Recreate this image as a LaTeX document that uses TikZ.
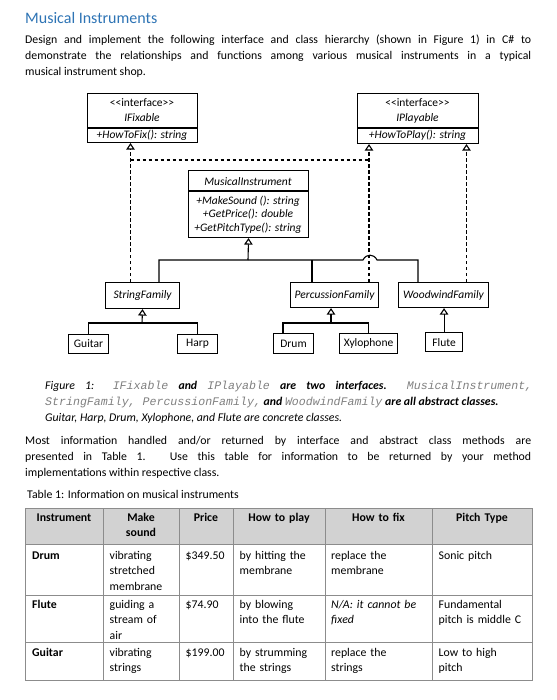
\documentclass[tikz,border=0pt]{standalone}
\usepackage{fontspec}
\setmainfont{Carlito}
\newfontfamily\monof{Liberation Mono}
\usetikzlibrary{arrows.meta}
\definecolor{titleblue}{HTML}{2E74B5}
\definecolor{codegray}{HTML}{808080}
\definecolor{hdrgray}{HTML}{D2D2D2}
\definecolor{rulegray}{HTML}{8C8C8C}
\newcommand{\cw}[1]{{\monof\fontsize{11.6}{16}\selectfont\color{codegray}#1}}
\begin{document}
\begin{tikzpicture}[x=1pt,y=-1pt,
  box/.style={draw, line width=1.1pt, inner sep=0pt, anchor=north west, font=\fontsize{11.5}{14}\selectfont},
  ibox/.style={box, font=\fontsize{11.5}{14}\selectfont\itshape},
  lbl/.style={inner sep=0pt, font=\fontsize{11.5}{14}\selectfont},
  ilbl/.style={inner sep=0pt, font=\fontsize{11.5}{14}\selectfont\itshape},
  conn/.style={line width=1.1pt},
  dashes/.style={conn, dash pattern=on 3.5pt off 2.5pt},
  real/.style={dashes, -{Triangle[open, width=8.5pt, length=6.5pt, line width=1.1pt]}},
  gen/.style={conn, -{Triangle[open, width=8.5pt, length=6.5pt, line width=1.1pt]}},
  para/.style={inner sep=0pt, anchor=base west, align=justify, font=\fontsize{11.8}{16}\selectfont},
  cell/.style={inner sep=0pt, anchor=base west, align=left, text width=#1, font=\fontsize{11.8}{15.5}\selectfont},
  hcell/.style={inner sep=0pt, anchor=base, align=center, text width=#1, font=\fontsize{11.8}{15.5}\selectfont\bfseries},
]
\useasboundingbox (0,0) rectangle (556,700);
\fill[white] (0,0) rectangle (556,700);

% ---------- heading and intro ----------
\node[inner sep=0pt, anchor=base west, text=titleblue, font=\fontsize{16}{18}\selectfont] (title) at (25,23.5) {Musical Instruments};
\node[para, text width=506pt] (intro) at (25,44) {Design and implement the following interface and class hierarchy (shown in Figure 1) in C\# to\linebreak demonstrate the relationships and functions among various musical instruments in a typical\linebreak musical instrument shop.};

% ---------- UML diagram ----------
\node[box, minimum width=110pt, minimum height=49pt] (ifix) at (87,93) {};
\draw[line width=1.1pt] (87,128) -- (197,128);
\node[lbl] (ifixst) at (142,103) {<\kern0pt<interface>\kern0pt>};
\node[ilbl] (ifixnm) at (142,118) {IFixable};
\node[ilbl] (ifixop) at (142,135.5) {+HowToFix(): string};

\node[box, minimum width=121pt, minimum height=50pt] (ipl) at (357,93) {};
\draw[line width=1.1pt] (357,128) -- (478,128);
\node[lbl] (iplst) at (417.5,103) {<\kern0pt<interface>\kern0pt>};
\node[ilbl] (iplnm) at (417.5,118) {IPlayable};
\node[ilbl] (iplop) at (417.5,135.5) {+HowToPlay(): string};

\node[box, minimum width=120pt, minimum height=67pt] (mi) at (188,170) {};
\draw[line width=1.1pt] (188,191) -- (308,191);
\node[ilbl] (minm) at (248,181.5) {MusicalInstrument};
\node[ilbl] (miop1) at (248,201) {+MakeSound (): string};
\node[ilbl] (miop2) at (248,214.5) {+GetPrice(): double};
\node[ilbl] (miop3) at (248,228.5) {+GetPitchType(): string};

\node[ibox, minimum width=74pt, minimum height=26pt] (sf) at (105,282) {StringFamily};
\node[ibox, minimum width=88pt, minimum height=25pt] (pf) at (290,282) {PercussionFamily};
\node[ibox, minimum width=90pt, minimum height=25pt] (wf) at (398,282) {WoodwindFamily};

\node[box, minimum width=40pt, minimum height=19pt] (gu) at (68,334) {Guitar};
\node[box, minimum width=40pt, minimum height=19pt] (ha) at (177,334) {Harp};
\node[box, minimum width=40pt, minimum height=20pt] (dr) at (273,333) {Drum};
\node[box, minimum width=58pt, minimum height=20pt] (xy) at (339,333) {Xylophone};
\node[box, minimum width=37pt, minimum height=19pt] (fl) at (425,332) {Flute};

% realization (dashed) connectors
\draw[real] ([xshift=25.5pt]sf.north west) -- ([xshift=43.5pt]ifix.south west);
\draw[real] ([xshift=79pt]pf.north west) -- ([xshift=12pt]ipl.south west);
\draw[real] ([xshift=68.5pt]wf.north west) -- ([xshift=109.5pt]ipl.south west);
\coordinate (dl) at (130.5,160);
\coordinate (dr2) at (369,160);
\draw[dashes] (dl) -- (dr2);

% generalization connectors
\coordinate (mj) at (248,260);
\coordinate (bl) at (159,260);
\coordinate (hopa) at (363,260);
\coordinate (hopb) at (377,260);
\coordinate (br) at (418,260);
\coordinate (pj) at (312,260);
\draw[gen] (mj) -- (mi.south);
\draw[conn] ([xshift=54pt]sf.north west) -- (bl) -- (hopa) .. controls (366,253.5) and (374,253.5) .. (hopb) -- (br) -- ([xshift=20pt]wf.north west);
\draw[conn] ([xshift=22pt]pf.north west) -- (pj);

\coordinate (sj) at (142,323);
\draw[gen] (sj) -- (sf.south);
\draw[conn] (gu.north) |- (sj) -| (ha.north);

\coordinate (pjj) at (331,323);
\draw[gen] (pjj) -- ([xshift=41pt]pf.south west);
\draw[conn] ([xshift=10pt]dr.north west) |- (pjj) -| (xy.north);

\draw[gen] (fl.north) -- (fl.north |- wf.south);

% ---------- caption and text ----------
\node[para, text width=487pt, font=\fontsize{11.8}{16}\selectfont\itshape] (cap) at (45,389) {Figure 1: \cw{IFixable} \textbf{and} \cw{IPlayable} \textbf{are two interfaces.}\ \ \cw{MusicalInstrument,}\linebreak \cw{StringFamily, PercussionFamily,} \textbf{and} \cw{WoodwindFamily} \textbf{are all abstract classes.}\\ Guitar, Harp, Drum, Xylophone, and Flute are concrete classes.};

\node[para, text width=506pt] (info) at (25,444) {Most information handled and/or returned by interface and abstract class methods are\linebreak presented in Table 1. Use this table for information to be returned by your method\linebreak implementations within respective class.};

\node[inner sep=0pt, anchor=base west, font=\fontsize{11.8}{16}\selectfont] (tcap) at (27,498) {Table 1: Information on musical instruments};

% ---------- table ----------
\fill[hdrgray] (25,508) rectangle (532,544);
\draw[rulegray, line width=0.9pt] (25,508) rectangle (532,680);
\foreach \yy in {544,595,642} \draw[rulegray, line width=0.9pt] (25,\yy) -- (532,\yy);
\foreach \xx in {103,179,233,325,432} \draw[rulegray, line width=0.9pt] (\xx,508) -- (\xx,680);

\node[hcell=74pt] (h1) at (64,521) {Instrument};
\node[hcell=72pt] (h2) at (141,521) {Make\\sound};
\node[hcell=50pt] (h3) at (206,521) {Price};
\node[hcell=88pt] (h4) at (279,521) {How to play};
\node[hcell=100pt] (h5) at (378.5,521) {How to fix};
\node[hcell=96pt] (h6) at (482,521) {Pitch Type};

\node[cell=68pt, font=\fontsize{11.8}{15.5}\selectfont\bfseries] (d1) at (32,559) {Drum};
\node[cell=70pt] (d2) at (109.5,559) {vibrating\\stretched\\membrane};
\node[cell=52pt] (d3) at (185.5,559) {\$349.50};
\node[cell=90pt] (d4) at (239.5,559) {by hitting the\\membrane};
\node[cell=100pt] (d5) at (331,559) {replace the\\membrane};
\node[cell=95pt] (d6) at (438.5,559) {Sonic pitch};

\node[cell=68pt, font=\fontsize{11.8}{15.5}\selectfont\bfseries] (f1) at (32,608) {Flute};
\node[cell=70pt] (f2) at (109.5,608) {guiding a\\stream of\\air};
\node[cell=52pt] (f3) at (185.5,608) {\$74.90};
\node[cell=90pt] (f4) at (239.5,608) {by blowing\\into the flute};
\node[cell=100pt, font=\fontsize{11.8}{15.5}\selectfont\itshape] (f5) at (331,608) {N/A: it cannot be\\fixed};
\node[cell=95pt] (f6) at (438.5,608) {Fundamental\\pitch is middle C};

\node[cell=68pt, font=\fontsize{11.8}{15.5}\selectfont\bfseries] (g1) at (32,656) {Guitar};
\node[cell=70pt] (g2) at (109.5,656) {vibrating\\strings};
\node[cell=52pt] (g3) at (185.5,656) {\$199.00};
\node[cell=90pt] (g4) at (239.5,656) {by strumming\\the strings};
\node[cell=100pt] (g5) at (331,656) {replace the\\strings};
\node[cell=95pt] (g6) at (438.5,656) {Low to high\\pitch};
\end{tikzpicture}
\end{document}
